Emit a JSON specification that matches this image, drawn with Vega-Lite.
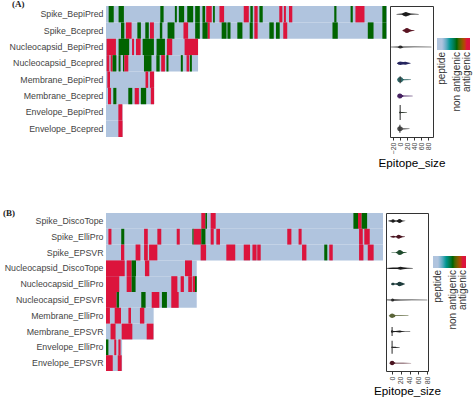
{
"$schema":"https://vega.github.io/schema/vega-lite/v6.json",
"padding":{"left":0,"top":0,"right":0,"bottom":0},
"background":"white",
"config":{"view":{"stroke":null},"font":"Liberation Sans"},
"datasets":{
"heatA":[
{"m":"Spike_BepiPred","s":0,"e":1273,"c":"peptide"},{"m":"Spike_Bcepred","s":0,"e":1273,"c":"peptide"},{"m":"Nucleocapsid_BepiPred","s":0,"e":417,"c":"peptide"},{"m":"Nucleocapsid_Bcepred","s":0,"e":417,"c":"peptide"},{"m":"Membrane_BepiPred","s":0,"e":218,"c":"peptide"},{"m":"Membrane_Bcepred","s":0,"e":218,"c":"peptide"},{"m":"Envelope_BepiPred","s":0,"e":75,"c":"peptide"},{"m":"Envelope_Bcepred","s":0,"e":75,"c":"peptide"},
{"m":"Spike_BepiPred","s":12,"e":35,"c":"non antigenic"},{"m":"Spike_BepiPred","s":57,"e":81,"c":"non antigenic"},{"m":"Spike_BepiPred","s":246,"e":261,"c":"non antigenic"},{"m":"Spike_BepiPred","s":312,"e":321,"c":"non antigenic"},{"m":"Spike_BepiPred","s":330,"e":354,"c":"non antigenic"},{"m":"Spike_BepiPred","s":368,"e":395,"c":"non antigenic"},{"m":"Spike_BepiPred","s":404,"e":425,"c":"non antigenic"},{"m":"Spike_BepiPred","s":437,"e":449,"c":"non antigenic"},{"m":"Spike_BepiPred","s":454,"e":479,"c":"antigenic"},{"m":"Spike_BepiPred","s":485,"e":493,"c":"non antigenic"},{"m":"Spike_BepiPred","s":514,"e":535,"c":"antigenic"},{"m":"Spike_BepiPred","s":624,"e":647,"c":"antigenic"},{"m":"Spike_BepiPred","s":654,"e":665,"c":"non antigenic"},{"m":"Spike_BepiPred","s":672,"e":687,"c":"antigenic"},{"m":"Spike_BepiPred","s":695,"e":710,"c":"non antigenic"},{"m":"Spike_BepiPred","s":785,"e":799,"c":"antigenic"},{"m":"Spike_BepiPred","s":806,"e":815,"c":"antigenic"},{"m":"Spike_BepiPred","s":829,"e":844,"c":"antigenic"},{"m":"Spike_BepiPred","s":1034,"e":1044,"c":"non antigenic"},{"m":"Spike_BepiPred","s":1108,"e":1118,"c":"non antigenic"},{"m":"Spike_BepiPred","s":1130,"e":1171,"c":"antigenic"},{"m":"Spike_BepiPred","s":1252,"e":1270,"c":"non antigenic"},
{"m":"Spike_Bcepred","s":68,"e":83,"c":"non antigenic"},{"m":"Spike_Bcepred","s":90,"e":116,"c":"antigenic"},{"m":"Spike_Bcepred","s":142,"e":158,"c":"non antigenic"},{"m":"Spike_Bcepred","s":178,"e":194,"c":"non antigenic"},{"m":"Spike_Bcepred","s":199,"e":217,"c":"antigenic"},{"m":"Spike_Bcepred","s":244,"e":255,"c":"non antigenic"},{"m":"Spike_Bcepred","s":279,"e":310,"c":"non antigenic"},{"m":"Spike_Bcepred","s":351,"e":372,"c":"antigenic"},{"m":"Spike_Bcepred","s":404,"e":425,"c":"non antigenic"},{"m":"Spike_Bcepred","s":437,"e":461,"c":"non antigenic"},{"m":"Spike_Bcepred","s":461,"e":470,"c":"antigenic"},{"m":"Spike_Bcepred","s":524,"e":546,"c":"non antigenic"},{"m":"Spike_Bcepred","s":550,"e":564,"c":"non antigenic"},{"m":"Spike_Bcepred","s":595,"e":618,"c":"non antigenic"},{"m":"Spike_Bcepred","s":651,"e":665,"c":"non antigenic"},{"m":"Spike_Bcepred","s":672,"e":687,"c":"antigenic"},{"m":"Spike_Bcepred","s":740,"e":760,"c":"non antigenic"},{"m":"Spike_Bcepred","s":770,"e":787,"c":"non antigenic"},{"m":"Spike_Bcepred","s":803,"e":821,"c":"antigenic"},{"m":"Spike_Bcepred","s":1026,"e":1050,"c":"non antigenic"},{"m":"Spike_Bcepred","s":1186,"e":1212,"c":"non antigenic"},{"m":"Spike_Bcepred","s":1252,"e":1270,"c":"non antigenic"},
{"m":"Nucleocapsid_BepiPred","s":3,"e":45,"c":"antigenic"},{"m":"Nucleocapsid_BepiPred","s":57,"e":105,"c":"non antigenic"},{"m":"Nucleocapsid_BepiPred","s":118,"e":127,"c":"antigenic"},{"m":"Nucleocapsid_BepiPred","s":136,"e":157,"c":"antigenic"},{"m":"Nucleocapsid_BepiPred","s":166,"e":217,"c":"non antigenic"},{"m":"Nucleocapsid_BepiPred","s":229,"e":267,"c":"non antigenic"},{"m":"Nucleocapsid_BepiPred","s":276,"e":300,"c":"antigenic"},{"m":"Nucleocapsid_BepiPred","s":356,"e":417,"c":"antigenic"},
{"m":"Nucleocapsid_Bcepred","s":3,"e":15,"c":"antigenic"},{"m":"Nucleocapsid_Bcepred","s":21,"e":30,"c":"antigenic"},{"m":"Nucleocapsid_Bcepred","s":30,"e":47,"c":"non antigenic"},{"m":"Nucleocapsid_Bcepred","s":57,"e":66,"c":"non antigenic"},{"m":"Nucleocapsid_Bcepred","s":77,"e":83,"c":"non antigenic"},{"m":"Nucleocapsid_Bcepred","s":83,"e":101,"c":"antigenic"},{"m":"Nucleocapsid_Bcepred","s":172,"e":206,"c":"non antigenic"},{"m":"Nucleocapsid_Bcepred","s":228,"e":243,"c":"non antigenic"},{"m":"Nucleocapsid_Bcepred","s":250,"e":267,"c":"antigenic"},{"m":"Nucleocapsid_Bcepred","s":274,"e":283,"c":"non antigenic"},{"m":"Nucleocapsid_Bcepred","s":339,"e":348,"c":"non antigenic"},{"m":"Nucleocapsid_Bcepred","s":365,"e":377,"c":"antigenic"},{"m":"Nucleocapsid_Bcepred","s":380,"e":389,"c":"non antigenic"},
{"m":"Membrane_BepiPred","s":6,"e":18,"c":"antigenic"},{"m":"Membrane_BepiPred","s":179,"e":191,"c":"antigenic"},{"m":"Membrane_BepiPred","s":199,"e":218,"c":"antigenic"},
{"m":"Membrane_Bcepred","s":9,"e":23,"c":"antigenic"},{"m":"Membrane_Bcepred","s":33,"e":47,"c":"non antigenic"},{"m":"Membrane_Bcepred","s":101,"e":119,"c":"non antigenic"},{"m":"Membrane_Bcepred","s":130,"e":149,"c":"antigenic"},{"m":"Membrane_Bcepred","s":158,"e":182,"c":"non antigenic"},{"m":"Membrane_Bcepred","s":203,"e":218,"c":"antigenic"},
{"m":"Envelope_BepiPred","s":56,"e":74,"c":"antigenic"},{"m":"Envelope_Bcepred","s":56,"e":75,"c":"antigenic"}
],
"heatB":[
{"m":"Spike_DiscoTope","s":0,"e":1273,"c":"peptide"},{"m":"Spike_ElliPro","s":0,"e":1273,"c":"peptide"},{"m":"Spike_EPSVR","s":0,"e":1273,"c":"peptide"},{"m":"Nucleocapsid_DiscoTope","s":0,"e":417,"c":"peptide"},{"m":"Nucleocapsid_ElliPro","s":0,"e":417,"c":"peptide"},{"m":"Nucleocapsid_EPSVR","s":0,"e":417,"c":"peptide"},{"m":"Membrane_ElliPro","s":0,"e":219,"c":"peptide"},{"m":"Membrane_EPSVR","s":0,"e":219,"c":"peptide"},{"m":"Envelope_ElliPro","s":0,"e":74,"c":"peptide"},{"m":"Envelope_EPSVR","s":0,"e":74,"c":"peptide"},
{"m":"Spike_DiscoTope","s":438,"e":457,"c":"antigenic"},{"m":"Spike_DiscoTope","s":457,"e":464,"c":"non antigenic"},{"m":"Spike_DiscoTope","s":481,"e":504,"c":"antigenic"},{"m":"Spike_DiscoTope","s":1137,"e":1158,"c":"non antigenic"},{"m":"Spike_DiscoTope","s":1158,"e":1175,"c":"antigenic"},{"m":"Spike_DiscoTope","s":1175,"e":1200,"c":"non antigenic"},
{"m":"Spike_ElliPro","s":11,"e":25,"c":"antigenic"},{"m":"Spike_ElliPro","s":70,"e":84,"c":"non antigenic"},{"m":"Spike_ElliPro","s":175,"e":192,"c":"antigenic"},{"m":"Spike_ElliPro","s":236,"e":254,"c":"antigenic"},{"m":"Spike_ElliPro","s":325,"e":339,"c":"antigenic"},{"m":"Spike_ElliPro","s":397,"e":403,"c":"non antigenic"},{"m":"Spike_ElliPro","s":403,"e":438,"c":"antigenic"},{"m":"Spike_ElliPro","s":438,"e":457,"c":"non antigenic"},{"m":"Spike_ElliPro","s":481,"e":495,"c":"antigenic"},{"m":"Spike_ElliPro","s":507,"e":524,"c":"antigenic"},{"m":"Spike_ElliPro","s":833,"e":852,"c":"antigenic"},{"m":"Spike_ElliPro","s":885,"e":899,"c":"antigenic"},{"m":"Spike_ElliPro","s":1163,"e":1180,"c":"antigenic"},{"m":"Spike_ElliPro","s":1187,"e":1212,"c":"antigenic"},
{"m":"Spike_EPSVR","s":69,"e":84,"c":"antigenic"},{"m":"Spike_EPSVR","s":136,"e":158,"c":"antigenic"},{"m":"Spike_EPSVR","s":175,"e":192,"c":"antigenic"},{"m":"Spike_EPSVR","s":198,"e":236,"c":"antigenic"},{"m":"Spike_EPSVR","s":435,"e":460,"c":"antigenic"},{"m":"Spike_EPSVR","s":553,"e":594,"c":"antigenic"},{"m":"Spike_EPSVR","s":633,"e":662,"c":"antigenic"},{"m":"Spike_EPSVR","s":673,"e":692,"c":"antigenic"},{"m":"Spike_EPSVR","s":695,"e":711,"c":"antigenic"},{"m":"Spike_EPSVR","s":901,"e":921,"c":"antigenic"},{"m":"Spike_EPSVR","s":1003,"e":1017,"c":"non antigenic"},{"m":"Spike_EPSVR","s":1026,"e":1042,"c":"antigenic"},{"m":"Spike_EPSVR","s":1163,"e":1183,"c":"antigenic"},{"m":"Spike_EPSVR","s":1203,"e":1230,"c":"antigenic"},
{"m":"Nucleocapsid_DiscoTope","s":0,"e":86,"c":"antigenic"},{"m":"Nucleocapsid_DiscoTope","s":95,"e":118,"c":"antigenic"},{"m":"Nucleocapsid_DiscoTope","s":118,"e":138,"c":"non antigenic"},{"m":"Nucleocapsid_DiscoTope","s":179,"e":199,"c":"antigenic"},{"m":"Nucleocapsid_DiscoTope","s":363,"e":395,"c":"antigenic"},
{"m":"Nucleocapsid_ElliPro","s":0,"e":61,"c":"antigenic"},{"m":"Nucleocapsid_ElliPro","s":95,"e":118,"c":"antigenic"},{"m":"Nucleocapsid_ElliPro","s":118,"e":136,"c":"non antigenic"},{"m":"Nucleocapsid_ElliPro","s":300,"e":328,"c":"antigenic"},{"m":"Nucleocapsid_ElliPro","s":343,"e":358,"c":"antigenic"},{"m":"Nucleocapsid_ElliPro","s":378,"e":395,"c":"antigenic"},{"m":"Nucleocapsid_ElliPro","s":398,"e":409,"c":"antigenic"},{"m":"Nucleocapsid_ElliPro","s":409,"e":417,"c":"non antigenic"},
{"m":"Nucleocapsid_EPSVR","s":0,"e":49,"c":"antigenic"},{"m":"Nucleocapsid_EPSVR","s":49,"e":60,"c":"non antigenic"},{"m":"Nucleocapsid_EPSVR","s":162,"e":182,"c":"non antigenic"},{"m":"Nucleocapsid_EPSVR","s":210,"e":245,"c":"antigenic"},{"m":"Nucleocapsid_EPSVR","s":257,"e":280,"c":"non antigenic"},{"m":"Nucleocapsid_EPSVR","s":300,"e":334,"c":"antigenic"},
{"m":"Membrane_ElliPro","s":0,"e":18,"c":"antigenic"},{"m":"Membrane_ElliPro","s":40,"e":69,"c":"antigenic"},{"m":"Membrane_ElliPro","s":103,"e":115,"c":"antigenic"},{"m":"Membrane_ElliPro","s":156,"e":176,"c":"antigenic"},
{"m":"Membrane_EPSVR","s":21,"e":44,"c":"antigenic"},{"m":"Membrane_EPSVR","s":72,"e":121,"c":"antigenic"},{"m":"Membrane_EPSVR","s":187,"e":218,"c":"antigenic"},
{"m":"Envelope_ElliPro","s":0,"e":11,"c":"non antigenic"},{"m":"Envelope_ElliPro","s":38,"e":47,"c":"antigenic"},{"m":"Envelope_ElliPro","s":57,"e":67,"c":"antigenic"},
{"m":"Envelope_EPSVR","s":0,"e":31,"c":"antigenic"},{"m":"Envelope_EPSVR","s":54,"e":72,"c":"antigenic"}
],
"violinA":[
{"m":"Spike_BepiPred","v":-10,"d":0.5},{"m":"Spike_BepiPred","v":5,"d":1.2},{"m":"Spike_BepiPred","v":10,"d":3},{"m":"Spike_BepiPred","v":16,"d":4.5},{"m":"Spike_BepiPred","v":22,"d":3},{"m":"Spike_BepiPred","v":30,"d":1.2},{"m":"Spike_BepiPred","v":42,"d":0.8},{"m":"Spike_BepiPred","v":52,"d":0.4},
{"m":"Spike_Bcepred","v":7,"d":0.8},{"m":"Spike_Bcepred","v":12,"d":2.5},{"m":"Spike_Bcepred","v":19,"d":5},{"m":"Spike_Bcepred","v":25,"d":3},{"m":"Spike_Bcepred","v":32,"d":1.2},{"m":"Spike_Bcepred","v":40,"d":0.5},
{"m":"Nucleocapsid_BepiPred","v":-27,"d":0.6},{"m":"Nucleocapsid_BepiPred","v":-8,"d":1},{"m":"Nucleocapsid_BepiPred","v":-2,"d":2.5},{"m":"Nucleocapsid_BepiPred","v":0,"d":3},{"m":"Nucleocapsid_BepiPred","v":3,"d":2.5},{"m":"Nucleocapsid_BepiPred","v":10,"d":1},{"m":"Nucleocapsid_BepiPred","v":40,"d":0.8},{"m":"Nucleocapsid_BepiPred","v":88,"d":0.6},
{"m":"Nucleocapsid_Bcepred","v":-8,"d":1},{"m":"Nucleocapsid_Bcepred","v":-3,"d":3},{"m":"Nucleocapsid_Bcepred","v":0,"d":3.5},{"m":"Nucleocapsid_Bcepred","v":8,"d":2.5},{"m":"Nucleocapsid_Bcepred","v":15,"d":3},{"m":"Nucleocapsid_Bcepred","v":20,"d":2},{"m":"Nucleocapsid_Bcepred","v":29,"d":0.5},
{"m":"Membrane_BepiPred","v":-8,"d":0.8},{"m":"Membrane_BepiPred","v":-3,"d":4},{"m":"Membrane_BepiPred","v":0,"d":5.5},{"m":"Membrane_BepiPred","v":4,"d":3.5},{"m":"Membrane_BepiPred","v":10,"d":1.2},{"m":"Membrane_BepiPred","v":30,"d":0.5},
{"m":"Membrane_Bcepred","v":-8,"d":0.8},{"m":"Membrane_Bcepred","v":-3,"d":4},{"m":"Membrane_Bcepred","v":-1,"d":5},{"m":"Membrane_Bcepred","v":3,"d":3},{"m":"Membrane_Bcepred","v":10,"d":1},{"m":"Membrane_Bcepred","v":35,"d":0.4},
{"m":"Envelope_BepiPred","v":-2,"d":1},{"m":"Envelope_BepiPred","v":0,"d":2},{"m":"Envelope_BepiPred","v":2,"d":1.2},{"m":"Envelope_BepiPred","v":6,"d":1},{"m":"Envelope_BepiPred","v":19,"d":0.4},
{"m":"Envelope_Bcepred","v":-7,"d":0.8},{"m":"Envelope_Bcepred","v":-3,"d":4},{"m":"Envelope_Bcepred","v":-1,"d":5},{"m":"Envelope_Bcepred","v":3,"d":3.5},{"m":"Envelope_Bcepred","v":8,"d":1.2},{"m":"Envelope_Bcepred","v":26,"d":0.4}
],
"peakA":[{"m":"Envelope_BepiPred","v":0,"d":15},{"m":"Envelope_Bcepred","v":-1,"d":8},{"m":"Membrane_BepiPred","v":0,"d":7}],
"violinB":[
{"m":"Spike_DiscoTope","v":-8,"d":0.6},{"m":"Spike_DiscoTope","v":0,"d":2},{"m":"Spike_DiscoTope","v":2,"d":3.5},{"m":"Spike_DiscoTope","v":5,"d":2},{"m":"Spike_DiscoTope","v":9,"d":1},{"m":"Spike_DiscoTope","v":14,"d":2.5},{"m":"Spike_DiscoTope","v":17,"d":4},{"m":"Spike_DiscoTope","v":20,"d":2.5},{"m":"Spike_DiscoTope","v":24,"d":1},{"m":"Spike_DiscoTope","v":30,"d":0.4},
{"m":"Spike_ElliPro","v":-4,"d":0.5},{"m":"Spike_ElliPro","v":0,"d":1.5},{"m":"Spike_ElliPro","v":3,"d":2},{"m":"Spike_ElliPro","v":8,"d":1},{"m":"Spike_ElliPro","v":11,"d":2},{"m":"Spike_ElliPro","v":15,"d":4},{"m":"Spike_ElliPro","v":19,"d":2.5},{"m":"Spike_ElliPro","v":24,"d":1},{"m":"Spike_ElliPro","v":29,"d":0.4},
{"m":"Spike_EPSVR","v":-1,"d":0.5},{"m":"Spike_EPSVR","v":8,"d":0.7},{"m":"Spike_EPSVR","v":13,"d":2.5},{"m":"Spike_EPSVR","v":17.5,"d":5},{"m":"Spike_EPSVR","v":22,"d":3},{"m":"Spike_EPSVR","v":27,"d":1},{"m":"Spike_EPSVR","v":33,"d":0.4},
{"m":"Nucleocapsid_DiscoTope","v":-13,"d":0.6},{"m":"Nucleocapsid_DiscoTope","v":-5,"d":1.2},{"m":"Nucleocapsid_DiscoTope","v":2,"d":1.5},{"m":"Nucleocapsid_DiscoTope","v":12,"d":1.5},{"m":"Nucleocapsid_DiscoTope","v":19,"d":3},{"m":"Nucleocapsid_DiscoTope","v":25,"d":2},{"m":"Nucleocapsid_DiscoTope","v":35,"d":1},{"m":"Nucleocapsid_DiscoTope","v":47,"d":0.4},
{"m":"Nucleocapsid_ElliPro","v":-2,"d":0.6},{"m":"Nucleocapsid_ElliPro","v":1,"d":2.5},{"m":"Nucleocapsid_ElliPro","v":3,"d":2.5},{"m":"Nucleocapsid_ElliPro","v":6,"d":1},{"m":"Nucleocapsid_ElliPro","v":12,"d":2},{"m":"Nucleocapsid_ElliPro","v":17,"d":4.5},{"m":"Nucleocapsid_ElliPro","v":22,"d":3},{"m":"Nucleocapsid_ElliPro","v":29,"d":0.5},
{"m":"Nucleocapsid_EPSVR","v":-13,"d":0.6},{"m":"Nucleocapsid_EPSVR","v":-3,"d":1},{"m":"Nucleocapsid_EPSVR","v":1,"d":3},{"m":"Nucleocapsid_EPSVR","v":5,"d":1.5},{"m":"Nucleocapsid_EPSVR","v":20,"d":1},{"m":"Nucleocapsid_EPSVR","v":45,"d":0.7},{"m":"Nucleocapsid_EPSVR","v":80,"d":0.5},
{"m":"Membrane_ElliPro","v":-7,"d":0.6},{"m":"Membrane_ElliPro","v":-3,"d":3},{"m":"Membrane_ElliPro","v":0,"d":4.5},{"m":"Membrane_ElliPro","v":4,"d":3},{"m":"Membrane_ElliPro","v":8,"d":0.8},{"m":"Membrane_ElliPro","v":20,"d":0.7},{"m":"Membrane_ElliPro","v":37,"d":0.4},
{"m":"Membrane_EPSVR","v":-2,"d":0.5},{"m":"Membrane_EPSVR","v":0,"d":2.5},{"m":"Membrane_EPSVR","v":2,"d":1.5},{"m":"Membrane_EPSVR","v":8,"d":0.8},{"m":"Membrane_EPSVR","v":18,"d":2},{"m":"Membrane_EPSVR","v":22,"d":0.8},{"m":"Membrane_EPSVR","v":30,"d":0.6},{"m":"Membrane_EPSVR","v":41,"d":0.4},
{"m":"Envelope_ElliPro","v":-2,"d":0.5},{"m":"Envelope_ElliPro","v":0,"d":1.5},{"m":"Envelope_ElliPro","v":2.5,"d":1.2},{"m":"Envelope_ElliPro","v":8,"d":1.2},{"m":"Envelope_ElliPro","v":17,"d":0.4},
{"m":"Envelope_EPSVR","v":-6,"d":0.6},{"m":"Envelope_EPSVR","v":-2,"d":3},{"m":"Envelope_EPSVR","v":0,"d":4.5},{"m":"Envelope_EPSVR","v":3,"d":2.5},{"m":"Envelope_EPSVR","v":8,"d":0.8},{"m":"Envelope_EPSVR","v":25,"d":0.6},{"m":"Envelope_EPSVR","v":43,"d":0.4}
],
"peakB":[{"m":"Envelope_ElliPro","v":0,"d":13},{"m":"Membrane_EPSVR","v":0,"d":9}],
"legendRows":[{"level":1.5,"c":"peptide"},{"level":6,"c":"non antigenic"},{"level":9,"c":"antigenic"}]
},
"vconcat":[
{"bounds":"flush","hconcat":[
{"title":{"text":"(A)","font":"Liberation Serif","fontWeight":"bold","fontSize":9,"color":"#222","anchor":"start","frame":"group","dx":-94,"offset":-3},
"width":281,"height":131,"data":{"name":"heatA"},"mark":{"type":"rect"},
"encoding":{"x":{"field":"s","type":"quantitative","axis":null,"scale":{"domain":[0,1273],"nice":false,"zero":false}},"x2":{"field":"e"},
"y":{"field":"m","type":"nominal","sort":null,"title":null,"scale":{"domain":["Spike_BepiPred","Spike_Bcepred","Nucleocapsid_BepiPred","Nucleocapsid_Bcepred","Membrane_BepiPred","Membrane_Bcepred","Envelope_BepiPred","Envelope_Bcepred"],"paddingInner":0,"paddingOuter":0},"axis":{"ticks":false,"domain":false,"labelFontSize":8.8,"labelColor":"#444","labelPadding":3,"labelLimit":200,"minExtent":106,"maxExtent":106}},
"color":{"field":"c","type":"nominal","legend":null,"scale":{"domain":["peptide","non antigenic","antigenic"],"range":["#b0c4de","#006400","#dc143c"]}}}},
{"width":43,"height":131,"view":{"stroke":"#333","strokeWidth":1},
"encoding":{"x":{"field":"v","type":"quantitative","title":"Epitope_size","scale":{"domain":[-29,93],"nice":false,"zero":false},"axis":{"grid":false,"domain":false,"values":[-20,0,20,40,60,80],"labelAngle":270,"labelAlign":"right","labelBaseline":"middle","labelFontSize":7,"labelColor":"#444","tickSize":3,"tickColor":"#333","titleFontSize":11.7,"titleFontWeight":"normal","titleColor":"#000","labelOverlap":false,"titlePadding":4}},
"y":{"field":"m","type":"nominal","axis":null,"sort":null,"scale":{"domain":["Spike_BepiPred","Spike_Bcepred","Nucleocapsid_BepiPred","Nucleocapsid_Bcepred","Membrane_BepiPred","Membrane_Bcepred","Envelope_BepiPred","Envelope_Bcepred"]}},
"size":{"field":"d","type":"quantitative","legend":null,"scale":{"domain":[0,20],"range":[0,20]}}},
"layer":[
{"data":{"name":"violinA"},"mark":{"type":"trail"},"encoding":{"detail":{"field":"m"},
"color":{"field":"m","type":"nominal","legend":null,"scale":{"domain":["Spike_BepiPred","Spike_Bcepred","Nucleocapsid_BepiPred","Nucleocapsid_Bcepred","Membrane_BepiPred","Membrane_Bcepred","Envelope_BepiPred","Envelope_Bcepred"],"range":["#1c1c1c","#5a1422","#2a2a2a","#24245e","#2c6464","#452060","#2f3a2f","#4a4a4a"]}}}},
{"data":{"name":"peakA"},"mark":{"type":"tick","thickness":1.5,"color":"#333"}}
]},
{"width":37,"height":131,"data":{"name":"legendRows"},"mark":{"type":"rect","opacity":0},
"encoding":{"color":{"field":"level","type":"quantitative","scale":{"type":"linear","domain":[0,1.5,6,9,10],"range":["#b0c4de","#b0c4de","#006400","#dc143c","#dc143c"]},
"legend":{"orient":"none","legendX":1,"legendY":32,"direction":"horizontal","title":null,"gradientLength":33,"gradientThickness":12,"values":[1.5,6,9],"labelExpr":"datum.value==1.5?'peptide':datum.value==6?'non antigenic':'antigenic'","labelFontSize":10,"labelColor":"#333","labelOverlap":false,"encoding":{"labels":{"angle":{"value":270},"align":{"value":"right"},"baseline":{"value":"middle"}}}}}}}
],"spacing":3,"resolve":{"scale":{"color":"independent","size":"independent"},"legend":{"color":"independent"}}},
{"bounds":"flush","hconcat":[
{"title":{"text":"(B)","font":"Liberation Serif","fontWeight":"bold","fontSize":9,"color":"#222","anchor":"start","frame":"group","dx":-103,"offset":-5},
"width":277,"height":158,"data":{"name":"heatB"},"mark":{"type":"rect"},
"encoding":{"x":{"field":"s","type":"quantitative","axis":null,"scale":{"domain":[0,1273],"nice":false,"zero":false}},"x2":{"field":"e"},
"y":{"field":"m","type":"nominal","sort":null,"title":null,"scale":{"domain":["Spike_DiscoTope","Spike_ElliPro","Spike_EPSVR","Nucleocapsid_DiscoTope","Nucleocapsid_ElliPro","Nucleocapsid_EPSVR","Membrane_ElliPro","Membrane_EPSVR","Envelope_ElliPro","Envelope_EPSVR"],"paddingInner":0,"paddingOuter":0},"axis":{"ticks":false,"domain":false,"labelFontSize":8.8,"labelColor":"#444","labelPadding":3,"labelLimit":200,"minExtent":106,"maxExtent":106}},
"color":{"field":"c","type":"nominal","legend":null,"scale":{"domain":["peptide","non antigenic","antigenic"],"range":["#b0c4de","#006400","#dc143c"]}}}},
{"width":42,"height":158,"view":{"stroke":"#333","strokeWidth":1},
"encoding":{"x":{"field":"v","type":"quantitative","title":"Epitope_size","scale":{"domain":[-14,82],"nice":false,"zero":false},"axis":{"grid":false,"domain":false,"values":[0,20,40,60,80],"labelAngle":270,"labelAlign":"right","labelBaseline":"middle","labelFontSize":7,"labelColor":"#444","tickSize":3,"tickColor":"#333","titleFontSize":11.7,"titleFontWeight":"normal","titleColor":"#000","labelOverlap":false,"titlePadding":2}},
"y":{"field":"m","type":"nominal","axis":null,"sort":null,"scale":{"domain":["Spike_DiscoTope","Spike_ElliPro","Spike_EPSVR","Nucleocapsid_DiscoTope","Nucleocapsid_ElliPro","Nucleocapsid_EPSVR","Membrane_ElliPro","Membrane_EPSVR","Envelope_ElliPro","Envelope_EPSVR"]}},
"size":{"field":"d","type":"quantitative","legend":null,"scale":{"domain":[0,20],"range":[0,20]}}},
"layer":[
{"data":{"name":"violinB"},"mark":{"type":"trail"},"encoding":{"detail":{"field":"m"},
"color":{"field":"m","type":"nominal","legend":null,"scale":{"domain":["Spike_DiscoTope","Spike_ElliPro","Spike_EPSVR","Nucleocapsid_DiscoTope","Nucleocapsid_ElliPro","Nucleocapsid_EPSVR","Membrane_ElliPro","Membrane_EPSVR","Envelope_ElliPro","Envelope_EPSVR"],"range":["#1c1c1c","#4a1420","#1e4a2c","#1c1c1c","#1e3c3c","#2a2a2a","#5a6438","#1c1c1c","#2a2a2a","#4a1420"]}}}},
{"data":{"name":"peakB"},"mark":{"type":"tick","thickness":1.5,"color":"#333"}}
]},
{"width":37,"height":158,"data":{"name":"legendRows"},"mark":{"type":"rect","opacity":0},
"encoding":{"color":{"field":"level","type":"quantitative","scale":{"type":"linear","domain":[0,1.5,6,9,10],"range":["#b0c4de","#b0c4de","#006400","#dc143c","#dc143c"]},
"legend":{"orient":"none","legendX":2,"legendY":43,"direction":"horizontal","title":null,"gradientLength":33,"gradientThickness":12,"values":[1.5,6,9],"labelExpr":"datum.value==1.5?'peptide':datum.value==6?'non antigenic':'antigenic'","labelFontSize":10,"labelColor":"#333","labelOverlap":false,"encoding":{"labels":{"angle":{"value":270},"align":{"value":"right"},"baseline":{"value":"middle"}}}}}}}
],"spacing":3,"resolve":{"scale":{"color":"independent","size":"independent"},"legend":{"color":"independent"}}}
],"spacing":38,"resolve":{"scale":{"color":"independent","size":"independent"},"legend":{"color":"independent"}}
}
